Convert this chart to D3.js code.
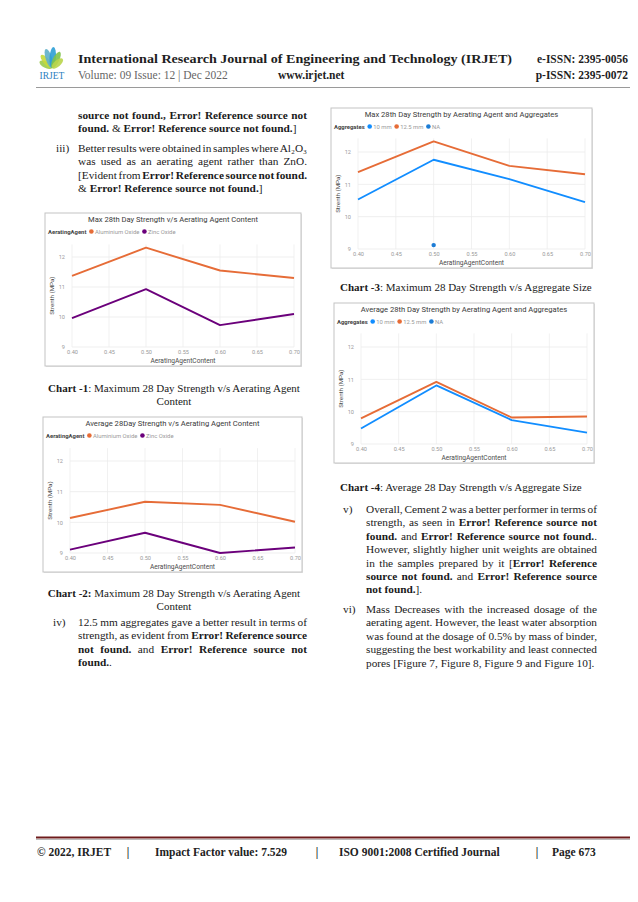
<!DOCTYPE html>
<html><head><meta charset="utf-8">
<script src="https://cdn.jsdelivr.net/npm/d3@7"></script>
<style>
html,body{margin:0;padding:0;background:#fff;}
svg{display:block;}
</style></head>
<body>
<svg id="page" width="638" height="902"></svg>
<script>
// ---------------- DATA ----------------
const xValues = [0.40, 0.50, 0.60, 0.70];
const xTicks = [0.40, 0.45, 0.50, 0.55, 0.60, 0.65, 0.70];
const yTicks = [9, 10, 11, 12];

// Chart 1: Max 28th Day Strength v/s Aerating Agent Content
const maxAluminiumOxide = [11.37, 12.31, 11.55, 11.30];
const maxZincOxide = [9.96, 10.93, 9.73, 10.10];
// Chart 2: Average 28Day Strength v/s Aerating Agent Content
const avgAluminiumOxide = [10.14, 10.67, 10.57, 10.02];
const avgZincOxide = [9.11, 9.66, 9.00, 9.18];
// Chart 3: Max 28th Day Strength by Aerating Agent and Aggregates
const max10mm = [10.53, 11.76, 11.16, 10.45];
const max125mm = [11.38, 12.33, 11.57, 11.31];
const maxNAx = [0.50];
const maxNA = [9.12];
// Chart 4: Average 28th Day Strength by Aerating Agent and Aggregates
const avg10mm = [9.48, 10.81, 9.74, 9.35];
const avg125mm = [9.79, 10.92, 9.82, 9.85];

const ORANGE = "#E66C37", PURPLE = "#6B007B", BLUE = "#118DFF", BLUE2 = "#1C7CD5";

const svg = d3.select("#page");
const SERIF = "'Liberation Serif', 'DejaVu Serif', serif";
const SANS = "Roboto, 'Noto Sans', sans-serif";

// ---------------- HEADER ----------------
const logo = svg.append("g");
const leaves = [
  {a:-62, c:"#9ccc4a", l:14}, {a:-40, c:"#c6d93a", l:17}, {a:-18, c:"#5fb0c9", l:20},
  {a:4, c:"#2c9fd6", l:21}, {a:26, c:"#7fc24a", l:18}, {a:50, c:"#b9d54a", l:14}
];
leaves.forEach(d => {
  logo.append("ellipse").attr("cx", 0).attr("cy", -d.l/2).attr("rx", 3.2).attr("ry", d.l/2)
    .attr("fill", d.c).attr("opacity", 0.9)
    .attr("transform", `translate(52,68) rotate(${d.a})`);
});
svg.append("text").attr("x", 52).attr("y", 79).attr("text-anchor", "middle")
  .attr("font-family", SERIF).attr("font-size", 9.5).attr("fill", "#2a7fc0").text("IRJET");

svg.append("text").attr("x", 78).attr("y", 63).attr("font-family", SERIF).attr("font-weight", "bold")
  .attr("font-size", 13.5).attr("fill", "#1e1e1e").attr("textLength", 434).attr("lengthAdjust", "spacingAndGlyphs")
  .text("International Research Journal of Engineering and Technology (IRJET)");
svg.append("text").attr("x", 628).attr("y", 63).attr("text-anchor", "end").attr("font-family", SERIF)
  .attr("font-weight", "bold").attr("font-size", 11.5).attr("fill", "#1e1e1e").text("e-ISSN: 2395-0056");
svg.append("text").attr("x", 78).attr("y", 79).attr("font-family", SERIF).attr("font-size", 11.5)
  .attr("fill", "#666").text("Volume: 09 Issue: 12 | Dec 2022");
svg.append("text").attr("x", 278).attr("y", 79).attr("font-family", SERIF).attr("font-weight", "bold")
  .attr("font-size", 11.5).attr("fill", "#1e1e1e").text("www.irjet.net");
svg.append("text").attr("x", 628).attr("y", 79).attr("text-anchor", "end").attr("font-family", SERIF)
  .attr("font-weight", "bold").attr("font-size", 11.5).attr("fill", "#1e1e1e").text("p-ISSN: 2395-0072");
svg.append("line").attr("x1", 36).attr("x2", 630).attr("y1", 87.5).attr("y2", 87.5)
  .attr("stroke", "#9a9a9a").attr("stroke-width", 1.2);

// ---------------- FOOTER ----------------
svg.append("line").attr("x1", 36).attr("x2", 630).attr("y1", 839.5).attr("y2", 839.5)
  .attr("stroke", "#bbb").attr("stroke-width", 1);
svg.append("line").attr("x1", 36).attr("x2", 630).attr("y1", 837.5).attr("y2", 837.5)
  .attr("stroke", "#6e1c1c").attr("stroke-width", 2.2);
[["© 2022, IRJET", 37, "start"], ["|", 128, "middle"], ["Impact Factor value: 7.529", 155, "start"],
 ["|", 317, "middle"], ["ISO 9001:2008 Certified Journal", 339, "start"], ["|", 537, "middle"], ["Page 673", 552, "start"]]
 .forEach(d => svg.append("text").attr("x", d[1]).attr("y", 856).attr("text-anchor", d[2])
   .attr("font-family", SERIF).attr("font-weight", "bold").attr("font-size", 11.5).attr("fill", "#222").text(d[0]));

// ---------------- BODY TEXT ----------------
function textLine(x, y, segs, opts = {}) {
  const t = svg.append("text").attr("x", x).attr("y", y).attr("font-family", SERIF)
    .attr("font-size", opts.size || 11.3).attr("fill", "#1a1a1a");
  segs.forEach(s => t.append("tspan").attr("font-weight", s[1] ? "bold" : "normal").text(s[0]));
  if (opts.width) {
    const nat = t.node().getComputedTextLength();
    const spaces = segs.map(s => s[0]).join("").split(" ").length - 1;
    if (spaces > 0) t.attr("word-spacing", (opts.width - nat) / spaces);
  }
  if (opts.anchor) t.attr("text-anchor", opts.anchor);
  return t;
}
function paragraph(x, y0, lh, width, lines) {
  lines.forEach((segs, i) => textLine(x, y0 + i * lh, segs, i < lines.length - 1 ? {width} : {}));
}
const LH = 13.4;
const CAP = 11.0;
// left column
paragraph(78, 119, LH, 229, [
  [["source not found., Error! Reference source not", 1]],
  [["found.", 1], [" & ", 0], ["Error! Reference source not found.", 1], ["]", 0]]
]);
textLine(56, 152, [["iii)", 0]]);
paragraph(78, 152, LH, 229, [
  [["Better results were obtained in samples where Al₂O₃", 0]],
  [["was used as an aerating agent rather than ZnO.", 0]],
  [["[Evident from ", 0], ["Error! Reference source not found.", 1]],
  [["& ", 0], ["Error! Reference source not found.", 1], ["]", 0]]
]);
textLine(174, 392, [["Chart -1", 1], [": Maximum 28 Day Strength v/s Aerating Agent", 0]], {anchor: "middle", size: CAP});
textLine(174, 405, [["Content", 0]], {anchor: "middle", size: CAP});
textLine(174, 597, [["Chart -2:", 1], [" Maximum 28 Day Strength v/s Aerating Agent", 0]], {anchor: "middle", size: CAP});
textLine(174, 610, [["Content", 0]], {anchor: "middle", size: CAP});
textLine(53, 626, [["iv)", 0]]);
paragraph(78, 626, LH, 229, [
  [["12.5 mm aggregates gave a better result in terms of", 0]],
  [["strength, as evident from ", 0], ["Error! Reference source", 1]],
  [["not found.", 1], [" and ", 0], ["Error! Reference source not", 1]],
  [["found.", 1], [".", 0]]
]);
// right column
textLine(340, 291, [["Chart -3", 1], [": Maximum 28 Day Strength v/s Aggregate Size", 0]], {size: CAP});
textLine(340, 491, [["Chart -4", 1], [": Average 28 Day Strength v/s Aggregate Size", 0]], {size: CAP});
textLine(343, 513, [["v)", 0]]);
paragraph(366, 513, LH, 231, [
  [["Overall, Cement 2 was a better performer in terms of", 0]],
  [["strength, as seen in ", 0], ["Error! Reference source not", 1]],
  [["found.", 1], [" and ", 0], ["Error! Reference source not found.", 1], [".", 0]],
  [["However, slightly higher unit weights are obtained", 0]],
  [["in the samples prepared by it [", 0], ["Error! Reference", 1]],
  [["source not found.", 1], [" and ", 0], ["Error! Reference source", 1]],
  [["not found.", 1], ["].", 0]]
]);
textLine(343, 613, [["vi)", 0]]);
paragraph(366, 613, LH, 231, [
  [["Mass Decreases with the increased dosage of the", 0]],
  [["aerating agent. However, the least water absorption", 0]],
  [["was found at the dosage of 0.5% by mass of binder,", 0]],
  [["suggesting the best workability and least connected", 0]],
  [["pores [Figure 7, Figure 8, Figure 9 and Figure 10].", 0]]
]);

// ---------------- CHARTS ----------------
function drawChart(cfg) {
  const {left, top, right, bottom} = cfg;
  const g = svg.append("g");
  g.append("rect").attr("x", left + 1).attr("y", top + 1).attr("width", right - left).attr("height", bottom - top)
    .attr("fill", "#e4e4e4");
  g.append("rect").attr("x", left).attr("y", top).attr("width", right - left).attr("height", bottom - top)
    .attr("fill", "#fff").attr("stroke", "#c4c4c4").attr("stroke-width", 1);

  const x = d3.scaleLinear().domain([0.40, 0.70]).range([left + 27, right - 7]);
  const y = d3.scaleLinear().domain([9, 12]).range([bottom - 19, top + 44]);
  const yTopVal = 12.42;

  // gridlines
  g.append("g").selectAll("line").data(xTicks).join("line")
    .attr("x1", d => x(d)).attr("x2", d => x(d)).attr("y1", y(9)).attr("y2", y(yTopVal))
    .attr("stroke", "#eeeeee").attr("stroke-width", 0.8);
  g.append("g").selectAll("line").data(yTicks).join("line")
    .attr("x1", x(0.40)).attr("x2", x(0.70)).attr("y1", d => y(d)).attr("y2", d => y(d))
    .attr("stroke", "#ebebeb").attr("stroke-width", 0.8);

  // axes
  const ax = g.append("g").attr("transform", `translate(0,${y(9)})`)
    .call(d3.axisBottom(x).tickValues(xTicks).tickSize(0).tickPadding(3).tickFormat(d3.format(".2f")));
  const ay = g.append("g").attr("transform", `translate(${x(0.40) - 7},0)`)
    .call(d3.axisLeft(y).tickValues(yTicks).tickSize(0).tickPadding(0).tickFormat(d3.format("d")));
  [ax, ay].forEach(a => {
    a.select(".domain").remove();
    a.selectAll("text").attr("font-family", SANS).attr("font-size", 5.6).attr("fill", "#9a9a9a");
  });

  // titles
  g.append("text").attr("x", (left + right) / 2).attr("y", top + 8.5).attr("text-anchor", "middle")
    .attr("font-family", SANS).attr("font-size", 7.6).attr("fill", "#3a3a3a").text(cfg.title);
  g.append("text").attr("x", (x(0.40) + x(0.70)) / 2).attr("y", bottom - 3.5).attr("text-anchor", "middle")
    .attr("font-family", SANS).attr("font-size", 6.6).attr("fill", "#4a4a4a").text("AeratingAgentContent");
  const ym = (y(9) + y(yTopVal)) / 2;
  g.append("text").attr("transform", `translate(${left + 9},${ym}) rotate(-90)`).attr("text-anchor", "middle")
    .attr("font-family", SANS).attr("font-size", 6.2).attr("fill", "#4a4a4a").text("Strenth (MPa)");

  // legend
  let lx = left + 3;
  const ly = top + 20.5;
  const lt = g.append("text").attr("x", lx).attr("y", ly).attr("font-family", SANS).attr("font-weight", "bold")
    .attr("font-size", 5.9).attr("fill", "#444").text(cfg.legendTitle);
  lx += lt.node().getComputedTextLength() + 5;
  cfg.legend.forEach(it => {
    g.append("circle").attr("cx", lx).attr("cy", ly - 2).attr("r", 2.3).attr("fill", it.color);
    const t = g.append("text").attr("x", lx + 3.5).attr("y", ly).attr("font-family", SANS)
      .attr("font-size", 5.9).attr("fill", "#9a9a9a").text(it.name);
    lx += 3.5 + t.node().getComputedTextLength() + 5;
  });

  // series
  const line = d3.line().x((d, i) => x(xValues[i])).y(d => y(d));
  cfg.series.forEach(s => {
    g.append("path").datum(s.values).attr("d", line).attr("fill", "none")
      .attr("stroke", s.color).attr("stroke-width", 1.9).attr("stroke-linejoin", "round");
  });
  (cfg.points || []).forEach(p => {
    p.xs.forEach((xv, i) => g.append("circle").attr("cx", x(xv)).attr("cy", y(p.values[i]))
      .attr("r", 2.2).attr("fill", p.color));
  });
}

drawChart({left: 45, top: 213, right: 301, bottom: 366,
  title: "Max 28th Day Strength v/s Aerating Agent Content", legendTitle: "AeratingAgent",
  legend: [{name: "Aluminium Oxide", color: ORANGE}, {name: "Zinc Oxide", color: PURPLE}],
  series: [{values: maxAluminiumOxide, color: ORANGE}, {values: maxZincOxide, color: PURPLE}]});

drawChart({left: 43, top: 417, right: 302, bottom: 572,
  title: "Average 28Day Strength v/s Aerating Agent Content", legendTitle: "AeratingAgent",
  legend: [{name: "Aluminium Oxide", color: ORANGE}, {name: "Zinc Oxide", color: PURPLE}],
  series: [{values: avgAluminiumOxide, color: ORANGE}, {values: avgZincOxide, color: PURPLE}]});

drawChart({left: 331, top: 108, right: 592, bottom: 268,
  title: "Max 28th Day Strength by Aerating Agent and Aggregates", legendTitle: "Aggregates",
  legend: [{name: "10 mm", color: BLUE}, {name: "12.5 mm", color: ORANGE}, {name: "NA", color: BLUE2}],
  series: [{values: max125mm, color: ORANGE}, {values: max10mm, color: BLUE}],
  points: [{xs: maxNAx, values: maxNA, color: BLUE2}]});

drawChart({left: 334, top: 303, right: 594, bottom: 463,
  title: "Average 28th Day Strength by Aerating Agent and Aggregates", legendTitle: "Aggregates",
  legend: [{name: "10 mm", color: BLUE}, {name: "12.5 mm", color: ORANGE}, {name: "NA", color: BLUE2}],
  series: [{values: avg125mm, color: ORANGE}, {values: avg10mm, color: BLUE}]});
</script>
</body></html>
